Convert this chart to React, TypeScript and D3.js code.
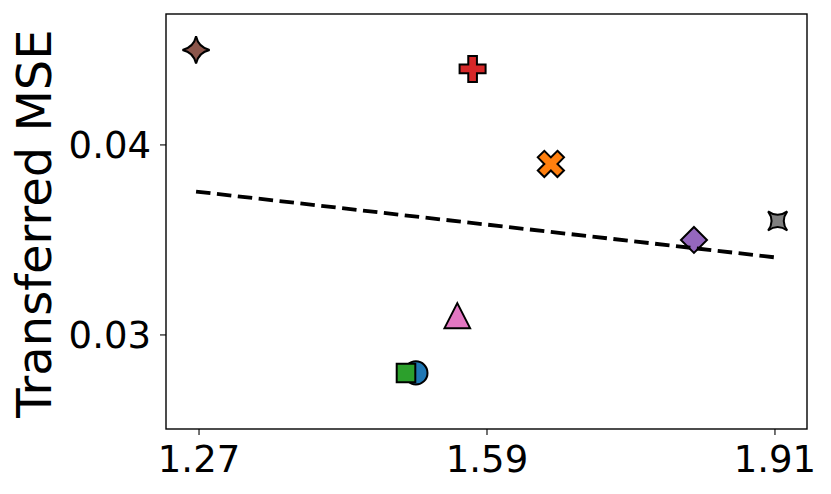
import { useRef, useEffect } from "react";
import * as d3 from "d3";

// ratio on x, transferred MSE on y, one marker per model (tab10 order)
const xValues = [1.511, 1.661, 1.5, 1.574, 1.82, 1.2667, 1.557, 1.913];
const yValues = [0.028, 0.039, 0.028, 0.044, 0.035, 0.045, 0.031, 0.036];
const colors = ["#1f77b4", "#ff7f0e", "#2ca02c", "#d62728", "#9467bd", "#8c564b", "#e377c2", "#7f7f7f"];
const shapes = ["circle", "x", "square", "plus", "diamond", "star4", "triangle", "star4rot"];

const xTicks = [1.27, 1.59, 1.91];
const yTicks = [0.03, 0.04];
const xDomain = [1.2333, 1.9456];
const yDomain = [0.02505, 0.04689];
const yLabel = "Transferred MSE";

function markerPath(shape: string) {
  const p = d3.path();
  if (shape === "circle") {
    p.arc(0, 0, 11.6, 0, Math.PI * 2);
  } else if (shape === "square") {
    p.rect(-9.3, -9.3, 18.6, 18.6);
  } else if (shape === "triangle") {
    p.moveTo(0, -12.8);
    p.lineTo(12.8, 12.2);
    p.lineTo(-12.8, 12.2);
    p.closePath();
  } else if (shape === "diamond") {
    p.moveTo(0, -13);
    p.lineTo(13, 0);
    p.lineTo(0, 13);
    p.lineTo(-13, 0);
    p.closePath();
  } else if (shape === "plus" || shape === "x") {
    const a = shape === "plus" ? 13 : 13.9;
    const w = a / 3;
    const pts = [
      [-w, -a], [w, -a], [w, -w], [a, -w], [a, w], [w, w],
      [w, a], [-w, a], [-w, w], [-a, w], [-a, -w], [-w, -w],
    ];
    const r = shape === "x" ? Math.PI / 4 : 0;
    pts.forEach(([px, py], i) => {
      const qx = px * Math.cos(r) - py * Math.sin(r);
      const qy = px * Math.sin(r) + py * Math.cos(r);
      if (i === 0) p.moveTo(qx, qy);
      else p.lineTo(qx, qy);
    });
    p.closePath();
  } else if (shape === "star4") {
    const r = 13.6;
    const c = 2.4;
    p.moveTo(0, -r);
    p.quadraticCurveTo(c, -c, r, 0);
    p.quadraticCurveTo(c, c, 0, r);
    p.quadraticCurveTo(-c, c, -r, 0);
    p.quadraticCurveTo(-c, -c, 0, -r);
    p.closePath();
  } else if (shape === "star4rot") {
    const r = 9.6;
    const c = 2.6;
    p.moveTo(-r, -r);
    p.quadraticCurveTo(0, -c, r, -r);
    p.quadraticCurveTo(c, 0, r, r);
    p.quadraticCurveTo(0, c, -r, r);
    p.quadraticCurveTo(-c, 0, -r, -r);
    p.closePath();
  }
  return p.toString();
}

export default function App() {
  const svgRef = useRef(null);
  const width = 831;
  const height = 494;

  function renderChart() {
    const svg = d3.select(svgRef.current);
    svg.selectAll("*").remove();
    svg.attr("width", width).attr("height", height);

    const left = 166;
    const right = 807;
    const top = 14;
    const bottom = 429;

    const x = d3.scaleLinear().domain(xDomain).range([left, right]);
    const y = d3.scaleLinear().domain(yDomain).range([bottom, top]);

    const font = "DejaVu Sans, sans-serif";

    // ticks
    svg
      .selectAll(".xtick")
      .data(xTicks)
      .join("line")
      .attr("x1", (d) => x(d))
      .attr("x2", (d) => x(d))
      .attr("y1", bottom)
      .attr("y2", bottom + 6)
      .attr("stroke", "#000")
      .attr("stroke-width", 1.1);

    svg
      .selectAll(".xlabel")
      .data(xTicks)
      .join("text")
      .attr("x", (d) => x(d))
      .attr("y", 472)
      .attr("text-anchor", "middle")
      .attr("font-family", font)
      .attr("font-size", 37)
      .text((d) => d3.format(".2f")(d));

    svg
      .selectAll(".ytick")
      .data(yTicks)
      .join("line")
      .attr("x1", left - 6)
      .attr("x2", left)
      .attr("y1", (d) => y(d))
      .attr("y2", (d) => y(d))
      .attr("stroke", "#000")
      .attr("stroke-width", 1.1);

    svg
      .selectAll(".ylabel")
      .data(yTicks)
      .join("text")
      .attr("x", left - 15)
      .attr("y", (d) => y(d))
      .attr("dy", "0.36em")
      .attr("text-anchor", "end")
      .attr("font-family", font)
      .attr("font-size", 37)
      .text((d) => d3.format(".2f")(d));

    svg
      .append("text")
      .attr("transform", `translate(51,${(top + bottom) / 2 + 2}) rotate(-90)`)
      .attr("text-anchor", "middle")
      .attr("font-family", font)
      .attr("font-size", 48)
      .text(yLabel);

    // markers
    svg
      .selectAll(".pt")
      .data(xValues)
      .join("path")
      .attr("transform", (d, i) => `translate(${x(d)},${y(yValues[i])})`)
      .attr("d", (d, i) => markerPath(shapes[i]))
      .attr("fill", (d, i) => colors[i])
      .attr("stroke", "#000")
      .attr("stroke-width", 2)
      .attr("stroke-linejoin", "miter");

    // least squares fit through the points
    const mx = d3.mean(xValues) as number;
    const my = d3.mean(yValues) as number;
    const sxy = d3.sum(xValues, (d, i) => (d - mx) * (yValues[i] - my));
    const sxx = d3.sum(xValues, (d) => (d - mx) * (d - mx));
    const slope = sxy / sxx;
    const ends = d3.extent(xValues) as [number, number];
    const line = d3
      .line<number>()
      .x((d) => x(d))
      .y((d) => y(my + slope * (d - mx)));

    svg
      .append("path")
      .attr("d", line(ends))
      .attr("fill", "none")
      .attr("stroke", "#000")
      .attr("stroke-width", 3.8)
      .attr("stroke-dasharray", "14.5,6.5");

    // frame
    svg
      .append("rect")
      .attr("x", left)
      .attr("y", top)
      .attr("width", right - left)
      .attr("height", bottom - top)
      .attr("fill", "none")
      .attr("stroke", "#000")
      .attr("stroke-width", 1.4);
  }

  useEffect(() => {
    renderChart();
  }, []);

  return (
    <div style={{ position: "absolute", left: 0, top: 0 }}>
      <svg ref={svgRef} style={{ display: "block" }} />
    </div>
  );
}
